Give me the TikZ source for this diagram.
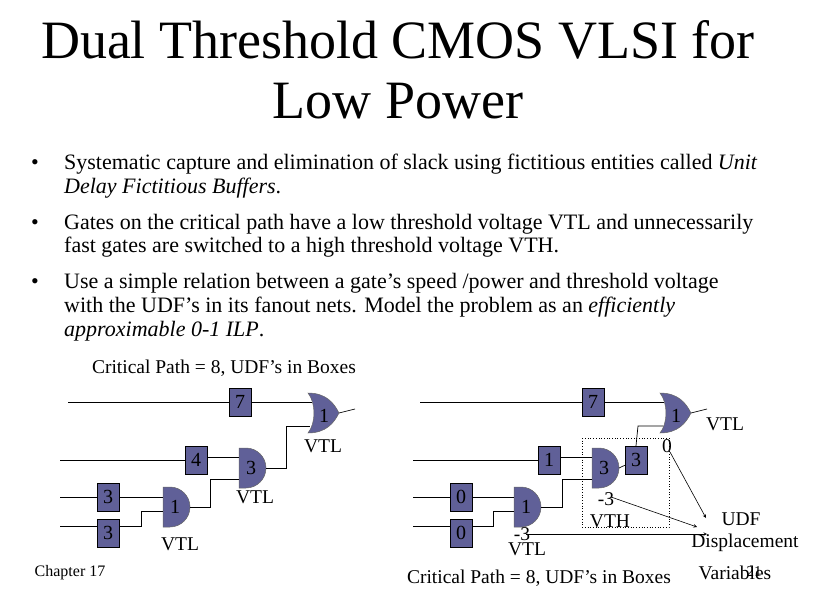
\documentclass[tikz,border=0pt]{standalone}
\usepackage{fontspec}
\setmainfont{Liberation Serif}
\begin{document}
\begin{tikzpicture}[x=1pt,y=-1pt,
  udf/.style={draw=black,fill=gatecol,minimum width=22pt,minimum height=28pt,inner sep=0pt,font=\fontsize{20}{20}\selectfont},
  lbl/.style={font=\fontsize{19.5}{19.5}\selectfont,inner sep=0pt},
  wire/.style={draw=black,line width=0.7pt},
  bul/.style={anchor=base west,inner sep=0pt,font=\fontsize{22}{22}\selectfont}]
\definecolor{gatecol}{RGB}{96,96,152}
\useasboundingbox (0,0) rectangle (823,592);
\newcommand\andgate[4]{%
  \fill[gatecol,draw=black!60,line width=0.5pt] (#2,#3-20) -- (#2+7,#3-20) .. controls (#2+18,#3-20) and (#2+27,#3-11) .. (#2+27,#3) .. controls (#2+27,#3+11) and (#2+18,#3+20) .. (#2+7,#3+20) -- (#2,#3+20) -- cycle;
  \node[lbl,font=\fontsize{20}{20}\selectfont] (#1) at (#2+12,#3) {#4};
  \coordinate (#1-o) at (#2+27,#3);}
\newcommand\orgate[4]{%
  \fill[gatecol,draw=black!60,line width=0.5pt] (#2,#3-20) .. controls (#2+8,#3-10) and (#2+8,#3+10) .. (#2,#3+20) .. controls (#2+18,#3+20) and (#2+26,#3+10) .. (#2+31,#3) .. controls (#2+26,#3-10) and (#2+18,#3-20) .. (#2,#3-20) -- cycle;
  \node[lbl,font=\fontsize{20}{20}\selectfont] (#1) at (#2+16,#3+3) {#4};
  \coordinate (#1-o) at (#2+31,#3);}
% title
\node[font=\fontsize{54}{54}\selectfont,anchor=base] (t1) at (398,58) {Dual Threshold CMOS VLSI for};
\node[font=\fontsize{54}{54}\selectfont,anchor=base] (t2) at (398,118) {Low Power};
% bullets
\foreach \yy in {169,229,288} \node[bul] at (31,\yy) {•};
\node[bul] at (64,169) {Systematic capture and elimination of slack using fictitious entities called \textit{Unit}};
\node[bul] at (64,193) {\textit{Delay Fictitious Buffers}.};
\node[bul] at (64,229) {Gates on the critical path have a low threshold voltage VTL and unnecessarily};
\node[bul] at (64,252) {fast gates are switched to a high threshold voltage VTH.};
\node[bul] at (64,288) {Use a simple relation between a gate’s speed /power and threshold voltage};
\node[bul] at (64,312) {with the UDF’s in its fanout nets. Model the problem as an \textit{efficiently}};
\node[bul] at (64,336) {\textit{approximable 0-1 ILP}.};
% ---------- left circuit
\node[lbl] (cpl) at (224,368) {Critical Path = 8, UDF’s in Boxes};
\orgate{lor}{308}{413}{1}
\andgate{lg3}{239}{468}{3}
\andgate{lg1}{163}{507}{1}
\node[udf] (l7) at (240,402) {7};
\node[udf] (l4) at (196,460) {4};
\node[udf] (l3a) at (108,497) {3};
\node[udf] (l3b) at (108,533) {3};
\coordinate (la) at (68,402); \coordinate (lb) at (60,460);
\coordinate (lc) at (60,497); \coordinate (ld) at (60,526);
\draw[wire] (la) -- (l7) -- (312,402);
\draw[wire] (lor-o) -- (355,409);
\draw[wire] (lb) -- (l4.west |- 0,460);
\draw[wire] (l4.east |- 0,457) -- (239,457);
\draw[wire] (lc) -- (l3a) -- (163,497);
\draw[wire] (ld) -- (97,526);
\draw[wire] (119,526) -- (141,526) |- (163,511);
\draw[wire] (lg1-o) -| (210,479) -- (239,479);
\draw[wire] (lg3-o) -| (286,426) -- (310,426);
\node[lbl] at (323,446) {VTL};
\node[lbl] at (255,497) {VTL};
\node[lbl] at (180,544) {VTL};
% ---------- right circuit
\orgate{ror}{660}{413}{1}
\andgate{rg3}{592}{468}{3}
\andgate{rg1}{514}{507}{1}
\node[udf] (r7) at (593,402) {7};
\node[udf] (r1) at (549,460) {1};
\node[udf] (r3) at (636,460) {3};
\node[udf] (r0a) at (461,497) {0};
\node[udf] (r0b) at (461,533) {0};
\coordinate (ra) at (420,402); \coordinate (rb) at (413,460);
\coordinate (rc) at (413,497); \coordinate (rd) at (413,526);
\draw[wire] (ra) -- (r7) -- (664,402);
\draw[wire] (ror-o) -- (707,409);
\draw[wire] (rb) -- (r1.west |- 0,460);
\draw[wire] (r1.east |- 0,457) -- (592,457);
\draw[wire] (rg3-o) -- (r3);
\draw[wire] (r3.north) -- (638,426) -- (663,426);
\draw[wire] (rc) -- (r0a) -- (514,497);
\draw[wire] (rd) -- (450,526);
\draw[wire] (472,526) -- (493,526) |- (514,511);
\draw[wire] (rg1-o) -| (562,479) -- (592,479);
\draw[dotted,line width=0.7pt] (582,438) rectangle (669,527);
\node[lbl] (rv1) at (725,424) {VTL};
\node[lbl] (z0) at (667,446) {0};
\node[lbl] (m3a) at (606,499) {-3};
\node[lbl] at (610,521) {VTH};
\node[lbl] (m3b) at (522,534) {-3};
\node[lbl] at (527,549) {VTL};
\node[lbl] (udf) at (741,519) {UDF};
\node[lbl] (disp) at (745,543) {Displacement};
\node[lbl] (vars) at (735,573) {Variables};
\node[lbl,font=\fontsize{15}{15}\selectfont] at (754,572) {21};
\coordinate (e1) at (706,518); \coordinate (e2) at (697,527); \coordinate (e3) at (707,534);
\draw[-stealth,line width=0.6pt] (670,452) -- (e1);
\draw[-stealth,line width=0.6pt] (611,497) -- (e2);
\draw[-stealth,line width=0.6pt] (526,534) -- (e3);
\node[lbl] (cpr) at (539,578) {Critical Path = 8, UDF’s in Boxes};
\node[lbl,font=\fontsize{16}{16}\selectfont] (ch) at (70,573) {Chapter 17};
\end{tikzpicture}
\end{document}
